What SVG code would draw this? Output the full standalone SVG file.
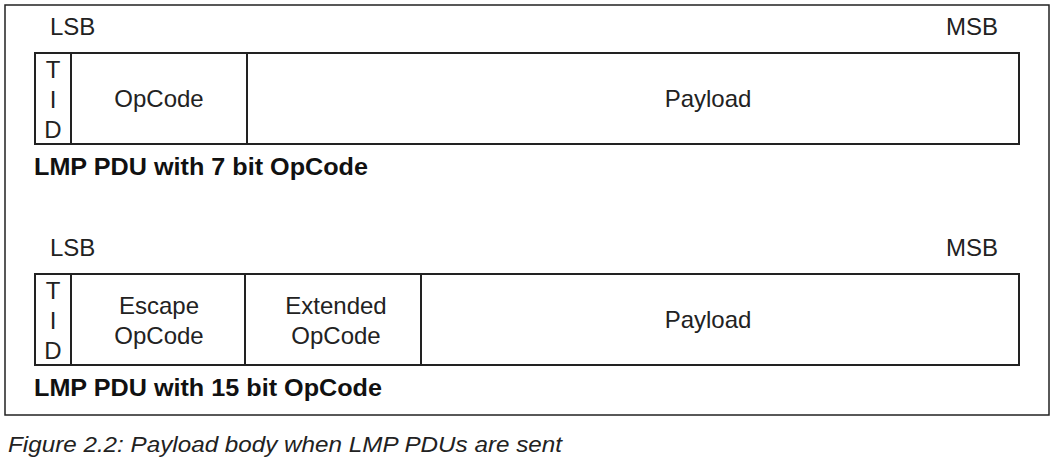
<svg xmlns="http://www.w3.org/2000/svg" width="1055" height="465" viewBox="0 0 1055 465">
<style>
text{font-family:"Liberation Sans",Arial,sans-serif;font-size:24px;fill:#222}
.b{font-weight:bold;fill:#111;font-size:23px}
.c{font-style:italic;font-size:22px}
.m{text-anchor:middle}
rect,line{fill:none;stroke:#222;stroke-width:2}
</style>
<rect x="5" y="5" width="1044" height="410" style="stroke-width:1.5"/>
<g id="pdu7">
<text x="50" y="35">LSB</text><text x="998" y="35" text-anchor="end">MSB</text>
<rect x="35" y="53" width="984" height="91"/>
<line x1="71" y1="53" x2="71" y2="144"/><line x1="247" y1="53" x2="247" y2="144"/>
<text x="53" y="78" class="m">T</text><text x="53" y="108" class="m">I</text><text x="53" y="138" class="m">D</text>
<text x="159" y="107" class="m">OpCode</text>
<text x="708" y="107" class="m">Payload</text>
<text x="34" y="175" class="b" textLength="334" lengthAdjust="spacingAndGlyphs">LMP PDU with 7 bit OpCode</text>
</g>
<g id="pdu15">
<text x="50" y="256">LSB</text><text x="998" y="256" text-anchor="end">MSB</text>
<rect x="35" y="274" width="984" height="91"/>
<line x1="71" y1="274" x2="71" y2="365"/><line x1="245" y1="274" x2="245" y2="365"/><line x1="421" y1="274" x2="421" y2="365"/>
<text x="53" y="299" class="m">T</text><text x="53" y="329" class="m">I</text><text x="53" y="359" class="m">D</text>
<text x="159" y="314" class="m">Escape</text><text x="159" y="344" class="m">OpCode</text>
<text x="336" y="314" class="m">Extended</text><text x="336" y="344" class="m">OpCode</text>
<text x="708" y="328" class="m">Payload</text>
<text x="34" y="396" class="b" textLength="348" lengthAdjust="spacingAndGlyphs">LMP PDU with 15 bit OpCode</text>
</g>
<g id="connectors"/>
<text x="8" y="452" class="c" textLength="554" lengthAdjust="spacingAndGlyphs">Figure 2.2:  Payload body when LMP PDUs are sent</text>
</svg>
